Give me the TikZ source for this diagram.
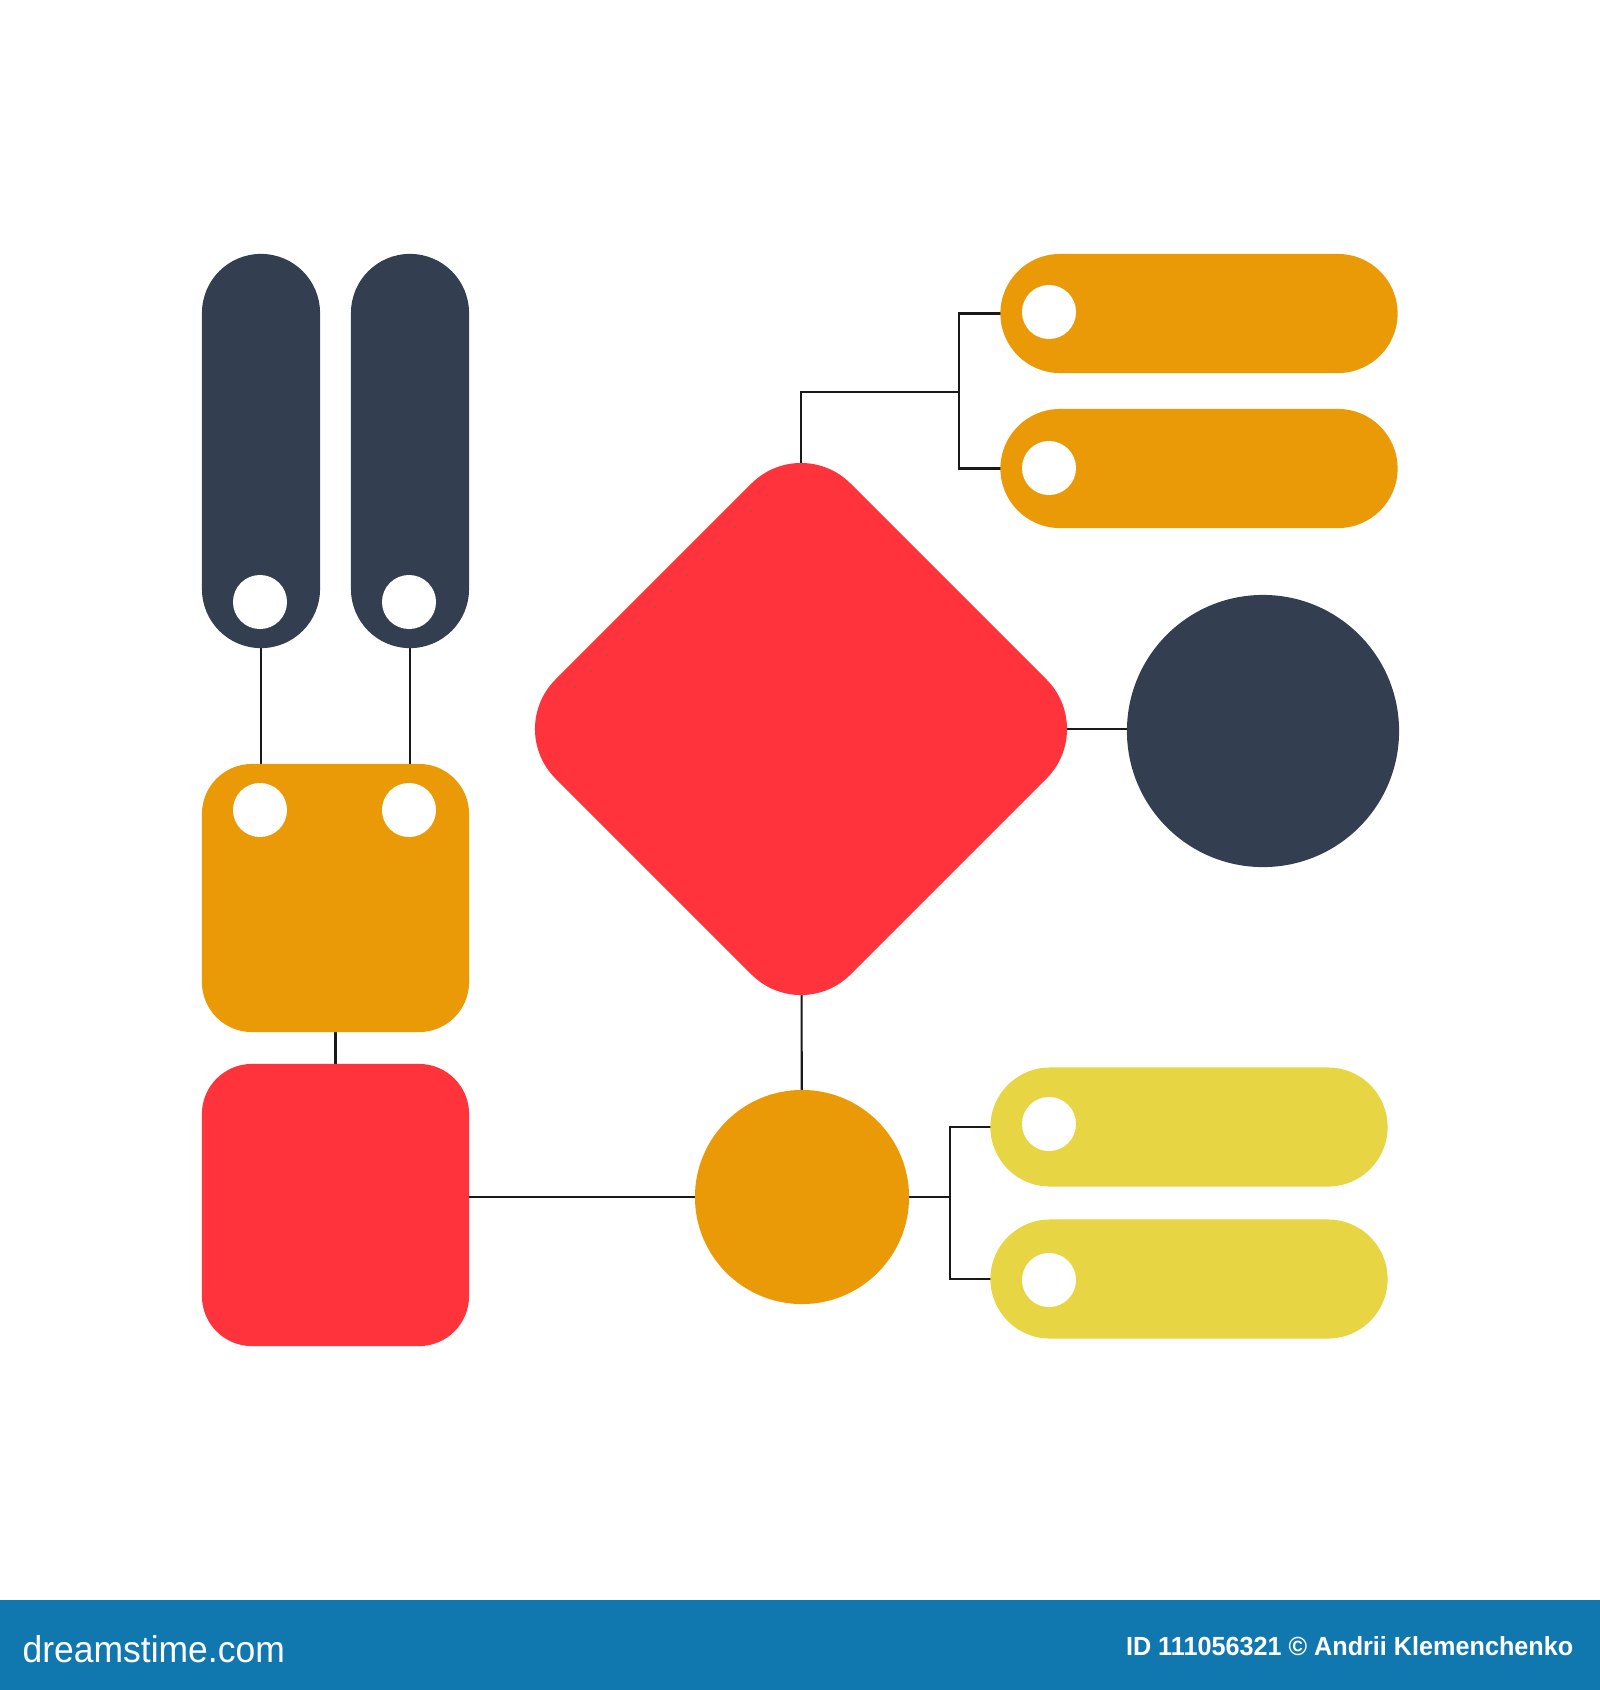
\documentclass[tikz,border=0pt]{standalone}
\usepackage{fontspec}
\setmainfont{Liberation Sans}
\usetikzlibrary{backgrounds}
\definecolor{navy}{HTML}{333F50}
\definecolor{amber}{HTML}{E99A06}
\definecolor{tomato}{HTML}{FE333C}
\definecolor{lemon}{HTML}{E7D544}
\definecolor{barblue}{HTML}{1177AF}
\tikzset{
  conn/.style={draw=black!90, line width=0.6pt},
  vpill/.style={rectangle, inner sep=0pt, minimum width=1.18cm, minimum height=3.94cm, rounded corners=0.59cm, fill=navy},
  hpill/.style={rectangle, inner sep=0pt, minimum width=3.97cm, minimum height=1.19cm, rounded corners=0.595cm},
  hole/.style={circle, inner sep=0pt, minimum size=0.54cm, fill=white},
  sqbox/.style={rectangle, inner sep=0pt, minimum width=2.67cm, rounded corners=0.5cm},
}
\begin{document}
\begin{tikzpicture}[x=0.01cm, y=-0.01cm]
\path[use as bounding box] (0,0) rectangle (1600,1690);
% left column
\node[vpill] (PA) at (261,451) {};
\node[vpill] (PB) at (410,451) {};
\node[hole] (hA) at (260,602) {};
\node[hole] (hB) at (409,602) {};
\node[sqbox, minimum height=2.68cm, fill=amber] (OB) at (335.5,898) {};
\node[hole] (hC) at (260,810) {};
\node[hole] (hD) at (409,810) {};
\node[sqbox, minimum height=2.82cm, fill=tomato] (RB) at (335.5,1205) {};
% diamond
\node[rectangle, inner sep=0pt, rotate=45, minimum width=4.17cm, minimum height=4.17cm, rounded corners=0.7cm, fill=tomato] (D) at (801,729) {};
% circles
\node[circle, inner sep=0pt, minimum size=2.72cm, fill=navy] (C1) at (1263,731) {};
\node[circle, inner sep=0pt, minimum size=2.14cm, fill=amber] (C2) at (802,1197) {};
% right pills
\node[hpill, fill=amber] (P1) at (1199,313.5) {};
\node[hpill, fill=amber] (P2) at (1199,468.5) {};
\node[hole] (h1) at (1049,312) {};
\node[hole] (h2) at (1049,468) {};
\node[hpill, fill=lemon] (Y1) at (1189,1127) {};
\node[hpill, fill=lemon] (Y2) at (1189,1279) {};
\node[hole] (h3) at (1049,1124) {};
\node[hole] (h4) at (1049,1280) {};
% junctions
\coordinate (j1) at (959,392);
\coordinate (j2) at (950,1197);
\begin{scope}[on background layer]
\draw[conn] (PA.center) -- (PA.center |- OB.center);
\draw[conn] (PB.center) -- (PB.center |- OB.center);
\draw[conn] (OB.center) -- (RB.center);
\draw[conn] (RB.center |- C2.center) -- (C2.center);
\draw[conn] (D.center) -- (C2.center);
\draw[conn] (D.center) -- (D.center -| C1.center);
\draw[conn] (D.center) |- (j1);
\draw[conn] (P1.center) -| (j1);
\draw[conn] (P2.center) -| (j1);
\draw[conn] (C2.center) -- (j2);
\draw[conn] (Y1.center) -| (j2);
\draw[conn] (Y2.center) -| (j2);
\end{scope}
% bottom bar
\fill[barblue] (0,1600) rectangle (1600,1690);
\node[anchor=base west, inner sep=0pt, text=white] (logo) at (22,1662) {\resizebox{2.62cm}{0.27cm}{dreamstime.com}};
\node[anchor=base east, inner sep=0pt, text=white] (credit) at (1574,1655) {\resizebox{4.47cm}{0.19cm}{\bfseries ID 111056321 © Andrii Klemenchenko}};
\end{tikzpicture}
\end{document}
